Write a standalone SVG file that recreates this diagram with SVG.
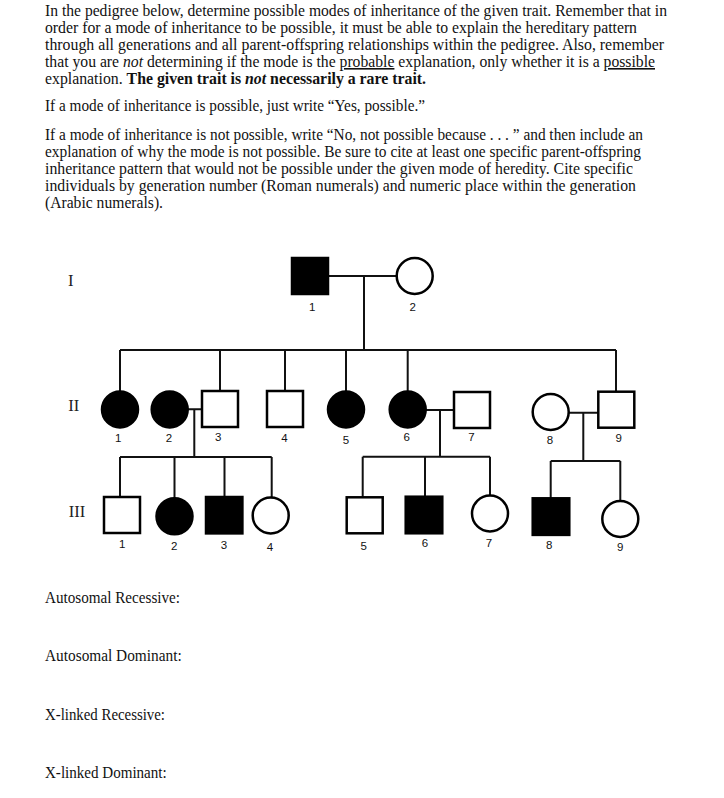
<svg xmlns="http://www.w3.org/2000/svg" width="724" height="798" viewBox="0 0 724 798">
<style>
.t{font-family:"Liberation Serif","Times New Roman",serif;font-size:16px;fill:#111}
.rn{font-family:"Liberation Serif","Times New Roman",serif;font-size:16.5px;fill:#222;text-anchor:middle}
.n{font-family:"Liberation Sans",Arial,sans-serif;font-size:11.5px;fill:#111;text-anchor:middle}
.aff{fill:#000;stroke:#000;stroke-width:2.5}
.un{fill:#fff;stroke:#000;stroke-width:2.5}
.ln{fill:none;stroke:#111;stroke-width:2}
</style>
<rect width="724" height="798" fill="#fff"/>
<g id="instructions">
<text class="t" x="45" y="16" textLength="622" lengthAdjust="spacingAndGlyphs">In the pedigree below, determine possible modes of inheritance of the given trait. Remember that in</text>
<text class="t" x="45" y="33" textLength="592" lengthAdjust="spacingAndGlyphs">order for a mode of inheritance to be possible, it must be able to explain the hereditary pattern</text>
<text class="t" x="45" y="50" textLength="619" lengthAdjust="spacingAndGlyphs">through all generations and all parent-offspring relationships within the pedigree.  Also, remember</text>
<text class="t" x="45" y="67" textLength="610" lengthAdjust="spacingAndGlyphs">that you are <tspan font-style="italic">not</tspan> determining if the mode is the <tspan text-decoration="underline">probable</tspan> explanation, only whether it is a <tspan text-decoration="underline">possible</tspan></text>
<text class="t" x="45" y="84" textLength="381" lengthAdjust="spacingAndGlyphs">explanation.  <tspan font-weight="bold">The given trait is <tspan font-style="italic">not</tspan> necessarily a rare trait.</tspan></text>
<text class="t" x="45" y="111" textLength="380" lengthAdjust="spacingAndGlyphs">If a mode of inheritance is possible, just write “Yes, possible.”</text>
<text class="t" x="45" y="140" textLength="598" lengthAdjust="spacingAndGlyphs">If a mode of inheritance is not possible, write “No, not possible because . . . ” and then include an</text>
<text class="t" x="45" y="157" textLength="596" lengthAdjust="spacingAndGlyphs">explanation of why the mode is not possible.  Be sure to cite at least one specific parent-offspring</text>
<text class="t" x="45" y="174" textLength="588" lengthAdjust="spacingAndGlyphs">inheritance pattern that would not be possible under the given mode of heredity.  Cite specific</text>
<text class="t" x="45" y="191" textLength="591" lengthAdjust="spacingAndGlyphs">individuals by generation number (Roman numerals) and numeric place within the generation</text>
<text class="t" x="45" y="208" textLength="118" lengthAdjust="spacingAndGlyphs">(Arabic numerals).</text>
</g>
<g id="generation-labels">
<text class="rn" x="70.7" y="285.7">I</text>
<text class="rn" x="73.8" y="410.7">II</text>
<text class="rn" x="77" y="516.7">III</text>
</g>
<g id="connectors">
<path class="ln" d="M328 276H397M364 276V350M120 350H616"/>
<path class="ln" d="M120 350V391.5M220 350V391M285 350V391M346 350V391.5M407.7 350V391.5M616 350V391.7"/>
<path class="ln" d="M187.7 409.3H202M194.3 409.3V457M120 457H271.7M120 457V497M174.5 457V498.3M224.5 457V497M271.7 457V497.5"/>
<path class="ln" d="M426 410H454M440 410V456.7M362.7 456.7H490M362.7 456.7V497.3M425 456.7V496.7M490 456.7V495.5"/>
<path class="ln" d="M568.7 412.7H598.3M583.3 412.7V461M550.7 461H620.3M550.7 461V498.3M620.3 461V501"/>
</g>
<g id="I-1"><rect class="aff" x="292" y="258" width="36" height="36"/><text class="n" x="312.3" y="310.5">1</text></g>
<g id="I-2"><circle class="un" cx="414.7" cy="276" r="18"/><text class="n" x="412.7" y="310.5">2</text></g>
<g id="II-1"><circle class="aff" cx="120" cy="409.5" r="18"/><text class="n" x="118.3" y="442">1</text></g>
<g id="II-2"><circle class="aff" cx="169.7" cy="409.5" r="18"/><text class="n" x="169" y="441.5">2</text></g>
<g id="II-3"><rect class="un" x="202" y="391" width="36" height="36"/><text class="n" x="218.3" y="441">3</text></g>
<g id="II-4"><rect class="un" x="267" y="391" width="36" height="36"/><text class="n" x="284.5" y="442">4</text></g>
<g id="II-5"><circle class="aff" cx="346" cy="409.5" r="18"/><text class="n" x="346" y="443.5">5</text></g>
<g id="II-6"><circle class="aff" cx="407.7" cy="409.5" r="18"/><text class="n" x="406.7" y="440.7">6</text></g>
<g id="II-7"><rect class="un" x="454" y="392" width="36" height="36"/><text class="n" x="471.5" y="441">7</text></g>
<g id="II-8"><circle class="un" cx="550.7" cy="412" r="18"/><text class="n" x="550" y="444">8</text></g>
<g id="II-9"><rect class="un" x="598.3" y="391.7" width="36" height="36"/><text class="n" x="618.7" y="442.3">9</text></g>
<g id="III-1"><rect class="un" x="104" y="497" width="36" height="36"/><text class="n" x="122.3" y="548">1</text></g>
<g id="III-2"><circle class="aff" cx="174.5" cy="516.3" r="18"/><text class="n" x="174.3" y="550">2</text></g>
<g id="III-3"><rect class="aff" x="206" y="497" width="36.4" height="36.4"/><text class="n" x="224" y="549">3</text></g>
<g id="III-4"><circle class="un" cx="270.7" cy="515.5" r="18"/><text class="n" x="270" y="550.7">4</text></g>
<g id="III-5"><rect class="un" x="346.7" y="497.3" width="36" height="36"/><text class="n" x="363.7" y="549.7">5</text></g>
<g id="III-6"><rect class="aff" x="405.7" y="496.7" width="36.6" height="36.6"/><text class="n" x="425" y="547.3">6</text></g>
<g id="III-7"><circle class="un" cx="490" cy="513.5" r="18"/><text class="n" x="489" y="547.3">7</text></g>
<g id="III-8"><rect class="aff" x="532.7" y="498.3" width="36.6" height="36.6"/><text class="n" x="549.3" y="549">8</text></g>
<g id="III-9"><circle class="un" cx="620.3" cy="519" r="18"/><text class="n" x="620.3" y="550.7">9</text></g>
<g id="answers">
<text class="t" x="45" y="603" textLength="135" lengthAdjust="spacingAndGlyphs">Autosomal Recessive:</text>
<text class="t" x="45" y="661" textLength="136.7" lengthAdjust="spacingAndGlyphs">Autosomal Dominant:</text>
<text class="t" x="45" y="719.5" textLength="120" lengthAdjust="spacingAndGlyphs">X-linked Recessive:</text>
<text class="t" x="45" y="778" textLength="121.7" lengthAdjust="spacingAndGlyphs">X-linked Dominant:</text>
</g>
</svg>
